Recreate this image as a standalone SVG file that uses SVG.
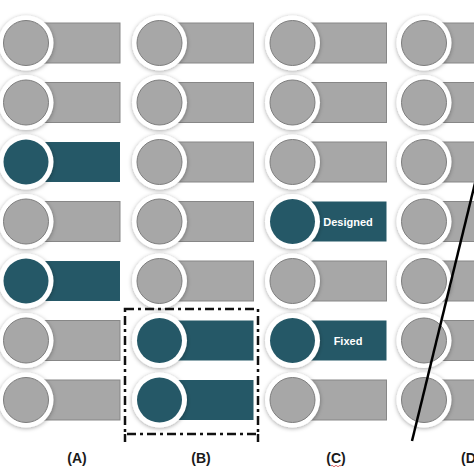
<svg xmlns="http://www.w3.org/2000/svg" xmlns:xlink="http://www.w3.org/1999/xlink" width="474" height="474" viewBox="0 0 474 474">
<defs>
<filter id="sh" x="-40%" y="-40%" width="180%" height="180%">
<feGaussianBlur in="SourceAlpha" stdDeviation="2"/>
<feOffset dx="0" dy="1" result="b"/>
<feFlood flood-color="#000" flood-opacity="0.35"/>
<feComposite in2="b" operator="in"/>
<feMerge><feMergeNode/><feMergeNode in="SourceGraphic"/></feMerge>
</filter>
<g id="gray">
<rect x="18" y="-20" width="76" height="40" fill="#a7a7a7" stroke="#878787" stroke-width="1"/>
<circle r="27.5" fill="#fff" filter="url(#sh)"/>
<circle r="22.5" fill="#a7a7a7" stroke="#7d7d7d" stroke-width="1"/>
</g>
<g id="dark">
<rect x="18" y="-20" width="76" height="40" fill="#255867"/>
<circle r="27.5" fill="#fff" filter="url(#sh)"/>
<circle r="22.5" fill="#255867"/>
</g>
</defs>
<style>
.lbl{font-family:"Liberation Sans",Arial,sans-serif;font-weight:bold;font-size:14px;fill:#1a1a1a;text-anchor:middle}
.in{font-family:"Liberation Sans",Arial,sans-serif;font-weight:bold;font-size:11px;fill:#fff;text-anchor:middle}
</style>
<rect width="474" height="474" fill="#fff"/>
<g id="colA">
<use id="A1" xlink:href="#gray" x="26" y="43"/>
<use id="A2" xlink:href="#gray" x="26" y="102.5"/>
<use id="A3" xlink:href="#dark" x="26" y="162"/>
<use id="A4" xlink:href="#gray" x="26" y="221.5"/>
<use id="A5" xlink:href="#dark" x="26" y="281"/>
<use id="A6" xlink:href="#gray" x="26" y="340.5"/>
<use id="A7" xlink:href="#gray" x="26" y="400"/>
</g>
<g id="colB">
<use id="B1" xlink:href="#gray" x="159.5" y="43"/>
<use id="B2" xlink:href="#gray" x="159.5" y="102.5"/>
<use id="B3" xlink:href="#gray" x="159.5" y="162"/>
<use id="B4" xlink:href="#gray" x="159.5" y="221.5"/>
<use id="B5" xlink:href="#gray" x="159.5" y="281"/>
<use id="B6" xlink:href="#dark" x="159.5" y="340.5"/>
<use id="B7" xlink:href="#dark" x="159.5" y="400"/>
</g>
<g id="colC">
<use id="C1" xlink:href="#gray" x="292.5" y="43"/>
<use id="C2" xlink:href="#gray" x="292.5" y="102.5"/>
<use id="C3" xlink:href="#gray" x="292.5" y="162"/>
<g id="C4"><use xlink:href="#dark" x="292.5" y="221.5"/><text class="in" x="348" y="225.5">Designed</text></g>
<use id="C5" xlink:href="#gray" x="292.5" y="281"/>
<g id="C6"><use xlink:href="#dark" x="292.5" y="340.5"/><text class="in" x="348" y="344.5">Fixed</text></g>
<use id="C7" xlink:href="#gray" x="292.5" y="400"/>
</g>
<g id="colD">
<use id="D1" xlink:href="#gray" x="424" y="43"/>
<use id="D2" xlink:href="#gray" x="424" y="102.5"/>
<use id="D3" xlink:href="#gray" x="424" y="162"/>
<use id="D4" xlink:href="#gray" x="424" y="221.5"/>
<use id="D5" xlink:href="#gray" x="424" y="281"/>
<use id="D6" xlink:href="#gray" x="424" y="340.5"/>
<use id="D7" xlink:href="#gray" x="424" y="400"/>
</g>
<g id="connectors">
<rect x="125" y="309" width="133" height="125" fill="none" stroke="#111" stroke-width="2.5" stroke-dasharray="9 4 3 4"/>
<line x1="125" y1="434" x2="125" y2="442" stroke="#111" stroke-width="2.5"/>
<line x1="258" y1="434" x2="258" y2="442" stroke="#111" stroke-width="2.5"/>
<line x1="412" y1="441" x2="476" y2="179" stroke="#000" stroke-width="2.5"/>
</g>
<g id="labels">
<text class="lbl" x="77" y="463">(A)</text>
<text class="lbl" x="201" y="463">(B)</text>
<text class="lbl" x="336" y="463">(C)</text>
<path d="M331 466 q1 -1.5 2 0 t2 0 t2 0 t2 0 t2 0" fill="none" stroke="#d04040" stroke-width="0.8"/>
<text class="lbl" x="461" y="463" text-anchor="start" style="text-anchor:start">(D)</text>
</g>
</svg>
